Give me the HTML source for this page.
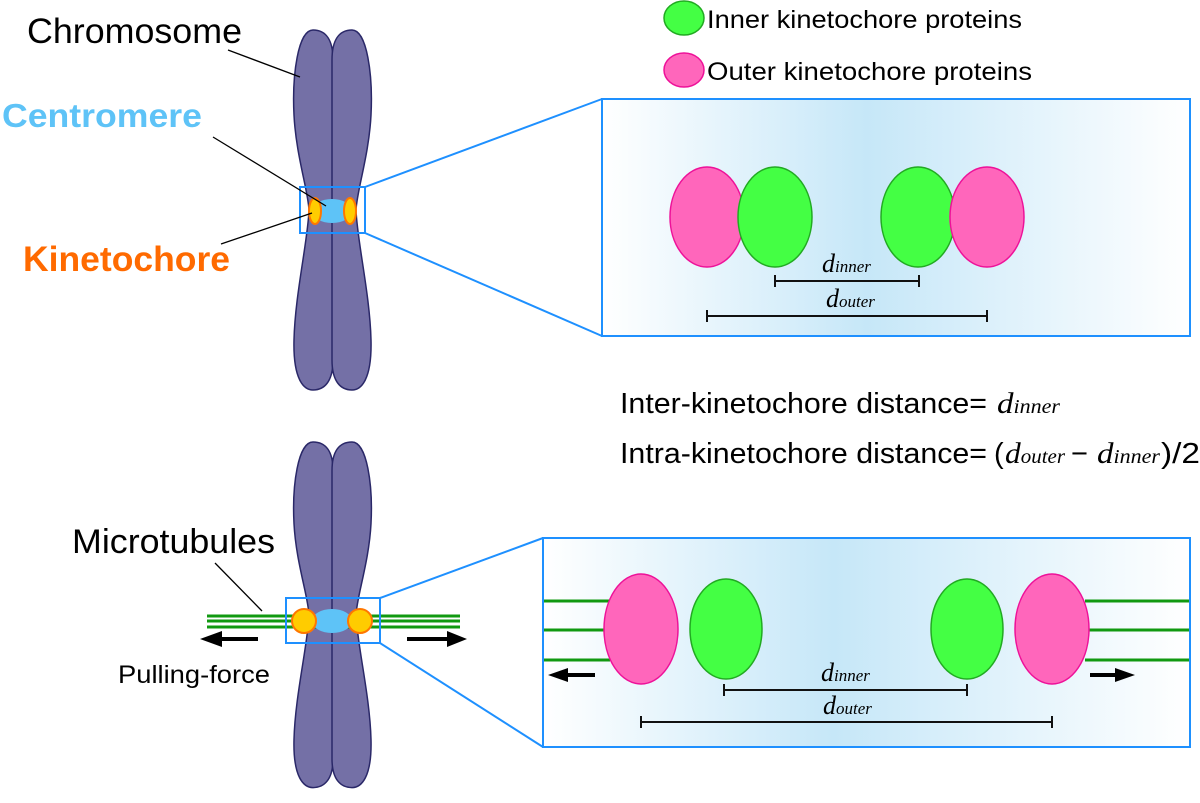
<!DOCTYPE html>
<html><head><meta charset="utf-8"><style>body{margin:0;background:#fff}svg{display:block}</style></head><body>
<svg width="1200" height="803" viewBox="0 0 1200 803" xmlns="http://www.w3.org/2000/svg" font-family="Liberation Sans, sans-serif">
<defs>
<linearGradient id="g" x1="0" x2="1"><stop offset="0" stop-color="#fff"/><stop offset="0.45" stop-color="#c6e7f8"/><stop offset="1" stop-color="#fff"/></linearGradient>
<path id="chrL" d="M313,0 C298,0 292,45 294,85 C296,125 308,160 309,180 C308,210 295,265 294,310 C293,350 304,360 313,360 C324,360 333,352 333,330 L333,30 C333,10 326,0 313,0 Z" fill="#7470a6" stroke="#2a2868" stroke-width="1.5"/>
</defs>
<!-- top chromosome -->
<g transform="translate(0,30)"><use href="#chrL"/><use href="#chrL" transform="translate(665,0) scale(-1,1)"/></g>
<ellipse cx="332" cy="211" rx="20" ry="12" fill="#5ec3f7"/>
<ellipse cx="315" cy="211" rx="6" ry="13" fill="#ffcc00" stroke="#ff7700" stroke-width="2"/>
<ellipse cx="350" cy="211" rx="6" ry="13" fill="#ffcc00" stroke="#ff7700" stroke-width="2"/>
<rect x="300" y="187" width="65" height="46" fill="none" stroke="#1e90ff" stroke-width="2"/>
<line x1="365" y1="187" x2="602" y2="99" stroke="#1e90ff" stroke-width="2"/>
<line x1="365" y1="233" x2="602" y2="336" stroke="#1e90ff" stroke-width="2"/>
<line x1="228" y1="50" x2="300" y2="77" stroke="#000" stroke-width="1.3"/>
<line x1="213" y1="137" x2="326" y2="206" stroke="#000" stroke-width="1.3"/>
<line x1="221" y1="244" x2="312" y2="213" stroke="#000" stroke-width="1.3"/>
<text x="27" y="43" font-size="35" textLength="215" lengthAdjust="spacingAndGlyphs">Chromosome</text>
<text x="2" y="127" font-size="33" font-weight="bold" fill="#5ec3f7" textLength="200" lengthAdjust="spacingAndGlyphs">Centromere</text>
<text x="23" y="271" font-size="35" font-weight="bold" fill="#ff6a00" textLength="207" lengthAdjust="spacingAndGlyphs">Kinetochore</text>
<!-- legend -->
<ellipse cx="684" cy="18" rx="20" ry="17" fill="#44ff44" stroke="#22aa22" stroke-width="1.5"/>
<ellipse cx="684" cy="70" rx="20" ry="17" fill="#ff66bb" stroke="#ee1199" stroke-width="1.5"/>
<text x="707" y="28" font-size="25" textLength="315" lengthAdjust="spacingAndGlyphs">Inner kinetochore proteins</text>
<text x="707" y="80" font-size="25" textLength="325" lengthAdjust="spacingAndGlyphs">Outer kinetochore proteins</text>
<!-- top box -->
<rect x="602" y="99" width="588" height="237" fill="url(#g)" stroke="#1e90ff" stroke-width="2"/>
<ellipse cx="707" cy="217" rx="37" ry="50" fill="#ff66bb" stroke="#ee1199" stroke-width="1.5"/>
<ellipse cx="775" cy="217" rx="37" ry="50" fill="#44ff44" stroke="#22aa22" stroke-width="1.5"/>
<ellipse cx="918" cy="217" rx="37" ry="50" fill="#44ff44" stroke="#22aa22" stroke-width="1.5"/>
<ellipse cx="987" cy="217" rx="37" ry="50" fill="#ff66bb" stroke="#ee1199" stroke-width="1.5"/>
<g stroke="#111" stroke-width="2"><line x1="775" y1="281" x2="919" y2="281"/><line x1="775" y1="275" x2="775" y2="287"/><line x1="919" y1="275" x2="919" y2="287"/>
<line x1="707" y1="316" x2="987" y2="316"/><line x1="707" y1="310" x2="707" y2="322"/><line x1="987" y1="310" x2="987" y2="322"/></g>
<text x="822" y="272" font-family="Liberation Serif, serif" font-style="italic" font-size="26">d<tspan font-size="17">inner</tspan></text>
<text x="826" y="307" font-family="Liberation Serif, serif" font-style="italic" font-size="26">d<tspan font-size="17">outer</tspan></text>
<!-- equations -->
<text x="620" y="413" font-size="29" textLength="367" lengthAdjust="spacingAndGlyphs">Inter-kinetochore distance=</text>
<text x="997" y="413" font-family="Liberation Serif, serif" font-style="italic" font-size="30" textLength="63" lengthAdjust="spacingAndGlyphs">d<tspan font-size="20">inner</tspan></text>
<text x="620" y="463" font-size="29" textLength="367" lengthAdjust="spacingAndGlyphs">Intra-kinetochore distance=</text>
<text x="994" y="463" font-size="29">(</text>
<text x="1005" y="463" font-family="Liberation Serif, serif" font-style="italic" font-size="30" textLength="60" lengthAdjust="spacingAndGlyphs">d<tspan font-size="20">outer</tspan></text>
<text x="1071" y="463" font-size="29">−</text>
<text x="1097" y="463" font-family="Liberation Serif, serif" font-style="italic" font-size="30" textLength="63" lengthAdjust="spacingAndGlyphs">d<tspan font-size="20">inner</tspan></text>
<text x="1161" y="463" font-size="29" textLength="39" lengthAdjust="spacingAndGlyphs">)/2</text>
<!-- bottom chromosome -->
<g transform="translate(0,442) scale(1,0.96)"><use href="#chrL"/><use href="#chrL" transform="translate(665,0) scale(-1,1)"/></g>
<g stroke="#119911" stroke-width="3"><line x1="207" y1="616" x2="460" y2="616"/><line x1="207" y1="621" x2="460" y2="621"/><line x1="207" y1="627" x2="460" y2="627"/></g>
<ellipse cx="332" cy="621" rx="20" ry="12" fill="#5ec3f7"/>
<circle cx="304" cy="621" r="12" fill="#ffcc00" stroke="#ff7700" stroke-width="2"/>
<circle cx="360" cy="621" r="12" fill="#ffcc00" stroke="#ff7700" stroke-width="2"/>
<rect x="286" y="598" width="94" height="45" fill="none" stroke="#1e90ff" stroke-width="2"/>
<line x1="380" y1="598" x2="543" y2="538" stroke="#1e90ff" stroke-width="2"/>
<line x1="380" y1="643" x2="543" y2="747" stroke="#1e90ff" stroke-width="2"/>
<g stroke="#000" stroke-width="4"><line x1="220" y1="639" x2="258" y2="639"/><line x1="407" y1="639" x2="450" y2="639"/></g>
<polygon points="200,639 222,631 222,647"/><polygon points="467,639 447,631 447,647"/>
<line x1="215" y1="563" x2="262" y2="611" stroke="#000" stroke-width="1.3"/>
<text x="72" y="553" font-size="34" textLength="203" lengthAdjust="spacingAndGlyphs">Microtubules</text>
<text x="118" y="683" font-size="25" textLength="152" lengthAdjust="spacingAndGlyphs">Pulling-force</text>
<!-- bottom box -->
<rect x="543" y="538" width="647" height="209" fill="url(#g)" stroke="#1e90ff" stroke-width="2"/>
<g stroke="#119911" stroke-width="3"><line x1="544" y1="601" x2="610" y2="601"/><line x1="544" y1="630" x2="606" y2="630"/><line x1="544" y1="660" x2="610" y2="660"/>
<line x1="1085" y1="601" x2="1189" y2="601"/><line x1="1088" y1="630" x2="1189" y2="630"/><line x1="1085" y1="660" x2="1189" y2="660"/></g>
<ellipse cx="641" cy="629" rx="37" ry="55" fill="#ff66bb" stroke="#ee1199" stroke-width="1.5"/>
<ellipse cx="726" cy="629" rx="36" ry="50" fill="#44ff44" stroke="#22aa22" stroke-width="1.5"/>
<ellipse cx="967" cy="629" rx="36" ry="50" fill="#44ff44" stroke="#22aa22" stroke-width="1.5"/>
<ellipse cx="1052" cy="629" rx="37" ry="55" fill="#ff66bb" stroke="#ee1199" stroke-width="1.5"/>
<g stroke="#000" stroke-width="4"><line x1="565" y1="675" x2="595" y2="675"/><line x1="1090" y1="675" x2="1118" y2="675"/></g>
<polygon points="548,675 568,668 568,682"/><polygon points="1135,675 1115,668 1115,682"/>
<g stroke="#111" stroke-width="2"><line x1="724" y1="690" x2="967" y2="690"/><line x1="724" y1="684" x2="724" y2="696"/><line x1="967" y1="684" x2="967" y2="696"/>
<line x1="641" y1="722" x2="1052" y2="722"/><line x1="641" y1="716" x2="641" y2="728"/><line x1="1052" y1="716" x2="1052" y2="728"/></g>
<text x="821" y="681" font-family="Liberation Serif, serif" font-style="italic" font-size="26">d<tspan font-size="17">inner</tspan></text>
<text x="823" y="714" font-family="Liberation Serif, serif" font-style="italic" font-size="26">d<tspan font-size="17">outer</tspan></text>
</svg>
</body></html>
